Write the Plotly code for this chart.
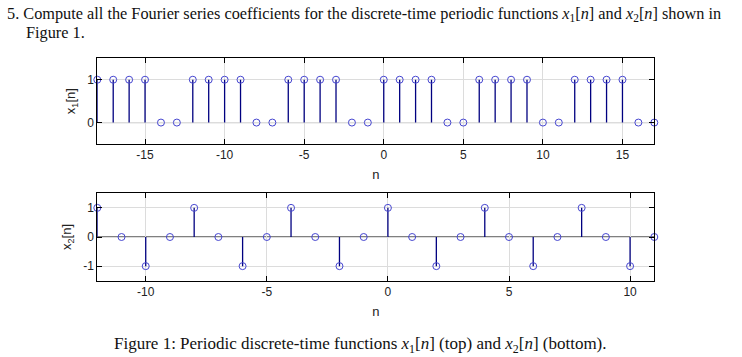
import plotly.graph_objects as go

# ---- data ----
n1 = list(range(-18, 18))
x1 = [1, 1, 1, 1, 0, 0] * 6
n2 = list(range(-12, 12))
x2 = [1, 0, -1, 0] * 6

x1_ticks = [-15, -10, -5, 0, 5, 10, 15]
x1_yticks = [0, 1]
x2_ticks = [-10, -5, 0, 5, 10]
x2_yticks = [-1, 0, 1]

header1 = ("5. Compute all the Fourier series coefficients for the discrete-time periodic functions "
           "<i>x</i><sub>1</sub>[<i>n</i>] and <i>x</i><sub>2</sub>[<i>n</i>] shown in")
header2 = "Figure 1."
caption = ("Figure 1: Periodic discrete-time functions <i>x</i><sub>1</sub>[<i>n</i>] (top) and "
           "<i>x</i><sub>2</sub>[<i>n</i>] (bottom).")

STEM = "#000080"
MARK = "#4646d0"


def stems(n, v):
    xs, ys = [], []
    for a, b in zip(n, v):
        xs += [a, a, None]
        ys += [0, b, None]
    return xs, ys


def labels(vals):
    return [str(v) for v in vals]


fig = go.Figure()
for (n, v, xa, ya) in [(n1, x1, "x", "y"), (n2, x2, "x2", "y2")]:
    sx, sy = stems(n, v)
    fig.add_trace(go.Scatter(x=sx, y=sy, mode="lines", line=dict(color=STEM, width=1.3),
                             xaxis=xa, yaxis=ya, hoverinfo="skip", showlegend=False))
    fig.add_trace(go.Scatter(x=n, y=v, mode="markers", cliponaxis=False,
                             marker=dict(symbol="circle-open", size=7, color=MARK, line=dict(width=1)),
                             xaxis=xa, yaxis=ya, showlegend=False))

sans = "Liberation Sans, Arial"
tickfont = dict(family=sans, size=12, color="#222")
titlefont = dict(family=sans, size=13, color="#222")
common_axis = dict(showline=True, linecolor="black", linewidth=1, mirror="ticks",
                   ticks="inside", ticklen=5, tickcolor="black",
                   showgrid=True, gridcolor="#dcdcdc", gridwidth=1,
                   tickfont=tickfont, zeroline=False, automargin=False)

L, R = 97.3 / 742, 654.3 / 742
fig.update_layout(
    width=742, height=357, margin=dict(l=0, r=0, t=0, b=0),
    paper_bgcolor="white", plot_bgcolor="white",
    xaxis=dict(domain=[L, R], range=[-18, 17], tickvals=x1_ticks, ticktext=labels(x1_ticks), anchor="y",
               title=dict(text="n", font=titlefont, standoff=8), **common_axis),
    yaxis=dict(domain=[(357 - 144) / 357, (357 - 58.3) / 357], range=[-0.5, 1.5], tickvals=x1_yticks,
               ticktext=labels(x1_yticks), anchor="x",
               title=dict(text="x<sub>1</sub>[n]", font=titlefont, standoff=8), **common_axis),
    xaxis2=dict(domain=[L, R], range=[-12, 11], tickvals=x2_ticks, ticktext=labels(x2_ticks), anchor="y2",
                title=dict(text="n", font=titlefont, standoff=8), **common_axis),
    yaxis2=dict(domain=[(357 - 280.7) / 357, (357 - 193.3) / 357], range=[-1.5, 1.5], tickvals=x2_yticks,
                ticktext=labels(x2_yticks), anchor="x2",
                title=dict(text="x<sub>2</sub>[n]", font=titlefont, standoff=8), **common_axis),
)

# baselines along data y=0
for xa, ya, lo, hi in [("x", "y", -18, 17), ("x2", "y2", -12, 11)]:
    fig.add_shape(type="line", xref=xa, yref=ya, x0=lo, x1=hi, y0=0, y1=0,
                  line=dict(color="black", width=1), layer="below")

serif = dict(family="Liberation Serif, Times New Roman, serif", size=16.3, color="#111")
fig.add_annotation(text=header1, xref="paper", yref="paper", x=5 / 742, y=1 - 2 / 357,
                   xanchor="left", yanchor="top", showarrow=False, font=serif)
fig.add_annotation(text=header2, xref="paper", yref="paper", x=24 / 742, y=1 - 21 / 357,
                   xanchor="left", yanchor="top", showarrow=False, font=serif)
fig.add_annotation(text=caption, xref="paper", yref="paper", x=360 / 742, y=1 - 332 / 357,
                   xanchor="center", yanchor="top", showarrow=False, font={**serif, "size": 17})

fig.write_html("out.html", config={"displayModeBar": False},
               post_script="document.body.style.margin='0';document.body.style.overflow='hidden';")
